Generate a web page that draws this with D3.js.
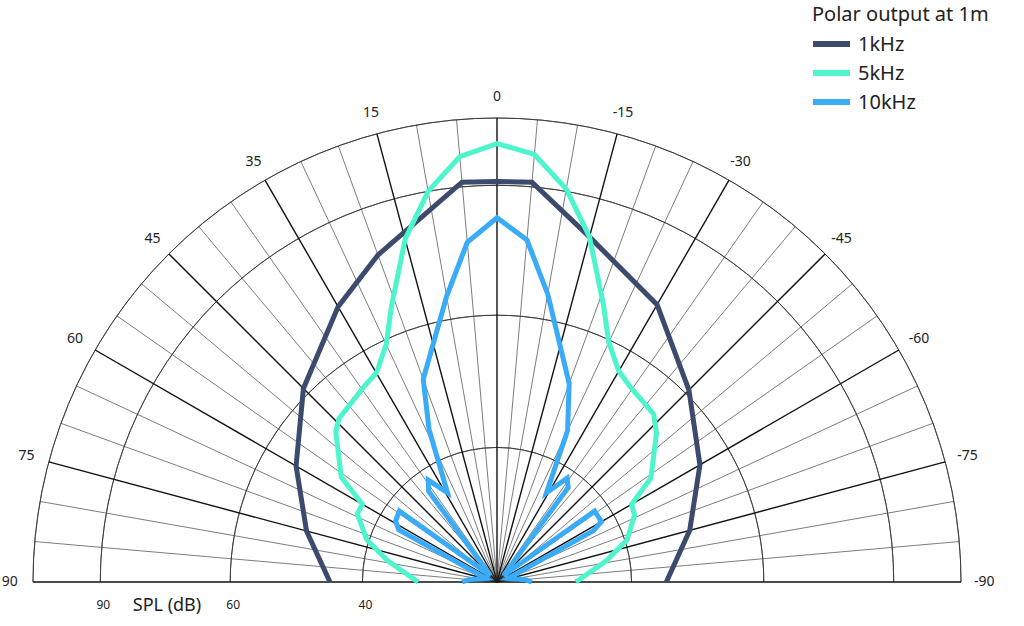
<!DOCTYPE html>
<html>
<head>
<meta charset="utf-8">
<script src="https://cdn.jsdelivr.net/npm/d3@7"></script>
<style>
  body { margin: 0; background: #fff; }
  text { font-family: "Noto Sans", "Open Sans", sans-serif; fill: #222; }
</style>
</head>
<body>
<div id="chart"></div>
<script>
// angles in degrees (positive = left of centre), levels on a 0-100 radial scale
const angleTicks = [90, 75, 60, 45, 30, 15, 0, -15, -30, -45, -60, -75, -90];
const angleLabels = ['90', '75', '60', '45', '35', '15', '0', '-15', '-30', '-45', '-60', '-75', '-90'];
const ringLevels = [29, 57.5, 85.5, 100];
const ringLabels = ['40', '60', '90'];

const seriesNames = ['1kHz', '5kHz', '10kHz'];
const seriesColors = ['#3b4a6d', '#4df4cc', '#3aabf6'];

const angles1k = [90, 75, 60, 45, 30, 20, 5, 0, -5, -15, -30, -45, -60, -75, -90];
const levels1k = [36, 42.5, 50, 59, 68.5, 75, 86.5, 86.3, 86.5, 77, 69, 58.5, 50.5, 43, 36.5];

const angles5k = [90, 79, 72, 64, 60, 56, 47, 44, 34, 30, 25, 21, 15, 10, 5, 0,
                  -5, -10, -15, -21, -25, -30, -34, -43, -47, -56, -60, -64, -72, -79, -90];
const levels5k = [17, 24, 29.5, 33.5, 33.5, 40.5, 47.5, 49, 51, 52, 56.5, 63.5, 76.5, 85.5, 92, 94.5,
                  92.5, 86, 77, 64, 57, 52.5, 51, 49.5, 47, 40, 33.5, 33, 29.5, 24, 17];

const angles10k = [90, 85, 72, 62, 59, 54, 45, 37, 34, 29, 24, 20, 10, 5, 0,
                   -5, -10, -20, -25, -29, -34, -37, -45, -54, -60, -62, -72, -85, -90];
const levels10k = [7.5, 6, 2.5, 24, 25.5, 26, 2, 24.5, 26.5, 22, 36, 46.5, 62.5, 73.5, 78.5,
                   74, 63, 45.5, 36, 22, 27, 25.5, 2, 26, 26, 23.5, 2.5, 6, 7.5];

const seriesData = [
  d3.zip(angles1k, levels1k),
  d3.zip(angles5k, levels5k),
  d3.zip(angles10k, levels10k)
];

const width = 1024;
const height = 626;
const cx = 497;
const cy = 582;
const R = 464;

const svg = d3.select('#chart').append('svg')
  .attr('width', width)
  .attr('height', height);

const rScale = d3.scaleLinear().domain([0, 100]).range([0, R]);
const toRad = (deg) => -deg * Math.PI / 180;

const g = svg.append('g').attr('transform', 'translate(' + cx + ',' + cy + ')');

// rings
const arc = d3.arc().startAngle(-Math.PI / 2).endAngle(Math.PI / 2);
g.selectAll('.ring')
  .data(ringLevels)
  .join('path')
  .attr('d', (d) => arc({ innerRadius: rScale(d), outerRadius: rScale(d) }))
  .attr('fill', 'none')
  .attr('stroke', '#333')
  .attr('stroke-width', 0.8);

// spokes every 5 degrees
const spokes = d3.range(-85, 90, 5);
g.selectAll('.spoke')
  .data(spokes)
  .join('line')
  .attr('x1', 0).attr('y1', 0)
  .attr('x2', (d) => rScale(100) * Math.sin(toRad(d)))
  .attr('y2', (d) => -rScale(100) * Math.cos(toRad(d)))
  .attr('stroke', (d) => d % 15 === 0 ? '#111' : '#444')
  .attr('stroke-width', (d) => d % 15 === 0 ? 1.4 : 0.7);

// baseline
g.append('line')
  .attr('x1', -rScale(100)).attr('x2', rScale(100))
  .attr('y1', 0).attr('y2', 0)
  .attr('stroke', '#111').attr('stroke-width', 1.5);

// angle labels
g.selectAll('.alabel')
  .data(angleTicks)
  .join('text')
  .attr('x', (d) => rScale(105) * Math.sin(toRad(d)))
  .attr('y', (d) => -rScale(104.5) * Math.cos(toRad(d)))
  .attr('text-anchor', 'middle')
  .attr('dominant-baseline', 'middle')
  .attr('font-size', 14)
  .text((d, i) => angleLabels[i]);

// ring labels
g.selectAll('.rlabel')
  .data(ringLabels)
  .join('text')
  .attr('x', (d, i) => -rScale(ringLevels[i]) + 3)
  .attr('y', 27)
  .attr('text-anchor', 'middle')
  .attr('font-size', 12)
  .text((d) => d);

g.append('text')
  .attr('x', -330).attr('y', 29)
  .attr('text-anchor', 'middle')
  .attr('font-size', 18)
  .text('SPL (dB)');

// series
const line = d3.lineRadial()
  .angle((d) => toRad(d[0]))
  .radius((d) => rScale(d[1]));

g.selectAll('.series')
  .data(seriesData)
  .join('path')
  .attr('d', line)
  .attr('fill', 'none')
  .attr('stroke', (d, i) => seriesColors[i])
  .attr('stroke-width', 5)
  .attr('stroke-linejoin', 'miter');

// legend
const legend = svg.append('g').attr('transform', 'translate(812, 0)');
legend.append('text')
  .attr('x', 0).attr('y', 21)
  .attr('font-size', 20)
  .text('Polar output at 1m');

const items = legend.selectAll('.item')
  .data(seriesNames)
  .join('g')
  .attr('transform', (d, i) => 'translate(0,' + (44 + i * 29) + ')');
items.append('line')
  .attr('x1', 1).attr('x2', 38)
  .attr('stroke', (d, i) => seriesColors[i])
  .attr('stroke-width', 6);
items.append('text')
  .attr('x', 46).attr('y', 7)
  .attr('font-size', 20)
  .text((d) => d);
</script>
</body>
</html>
